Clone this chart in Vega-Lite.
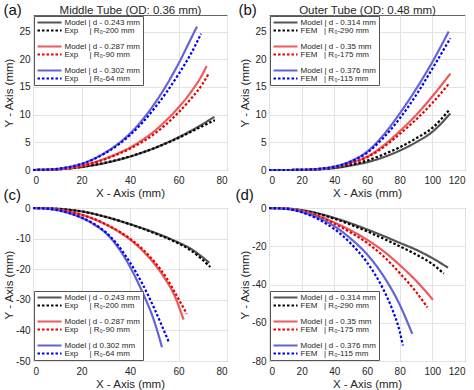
{
  "$schema": "https://vega.github.io/schema/vega-lite/v6.json",
  "padding": {"left": 2, "top": 1, "right": 0, "bottom": 0},
  "columns": 2,
  "spacing": {"row": 38, "column": 42},
  "bounds": "flush",
  "config": {
    "font": "Liberation Sans",
    "view": {"stroke": "#666666", "strokeWidth": 1},
    "axis": {"labelFontSize": 10, "labelColor": "#262626", "titleFontSize": 11.5, "titleFontWeight": "normal", "titleColor": "#262626", "gridColor": "#e3e3e3", "ticks": false, "domain": false, "labelOverlap": false},
    "axisX": {"labelPadding": 5, "titlePadding": 2},
    "axisY": {"labelPadding": 3, "titleX": -18.5},
    "legend": {"title": null, "offset": 1, "padding": 2.5, "fillColor": "white", "strokeColor": "#555555", "labelFontSize": 8, "labelColor": "#262626", "symbolType": "M-4,0H4", "symbolSize": 36, "symbolStrokeWidth": 2, "symbolOffset": 9, "labelOffset": 11, "rowPadding": 0}
  },
  "resolve": {
    "scale": {"color": "independent", "strokeDash": "independent", "x": "independent", "y": "independent"},
    "legend": {"color": "independent", "strokeDash": "independent"}
  },
  "datasets": {
    "a": [
      {"s":"m1","x":0,"y":0},{"s":"m1","x":5,"y":0.03},{"s":"m1","x":10,"y":0.11},{"s":"m1","x":15,"y":0.28},{"s":"m1","x":20,"y":0.53},{"s":"m1","x":25,"y":0.86},{"s":"m1","x":30,"y":1.29},{"s":"m1","x":35,"y":1.81},{"s":"m1","x":40,"y":2.42},{"s":"m1","x":45,"y":3.14},{"s":"m1","x":50,"y":3.95},{"s":"m1","x":55,"y":4.88},{"s":"m1","x":60,"y":5.91},{"s":"m1","x":65,"y":7.05},{"s":"m1","x":70,"y":8.3},{"s":"m1","x":74.8,"y":9.6},
      {"s":"e1","x":0,"y":0},{"s":"e1","x":5,"y":0.03},{"s":"e1","x":10,"y":0.12},{"s":"e1","x":15,"y":0.3},{"s":"e1","x":20,"y":0.56},{"s":"e1","x":25,"y":0.9},{"s":"e1","x":30,"y":1.33},{"s":"e1","x":35,"y":1.85},{"s":"e1","x":40,"y":2.45},{"s":"e1","x":45,"y":3.15},{"s":"e1","x":50,"y":3.93},{"s":"e1","x":55,"y":4.82},{"s":"e1","x":60,"y":5.8},{"s":"e1","x":65,"y":6.85},{"s":"e1","x":70,"y":7.95},{"s":"e1","x":75,"y":9.0},
      {"s":"m2","x":0,"y":0},{"s":"m2","x":5,"y":0.03},{"s":"m2","x":10,"y":0.12},{"s":"m2","x":15,"y":0.35},{"s":"m2","x":20,"y":0.75},{"s":"m2","x":25,"y":1.35},{"s":"m2","x":30,"y":2.1},{"s":"m2","x":35,"y":3.0},{"s":"m2","x":40,"y":4.05},{"s":"m2","x":45,"y":5.4},{"s":"m2","x":50,"y":7.0},{"s":"m2","x":55,"y":9.0},{"s":"m2","x":60,"y":11.3},{"s":"m2","x":65,"y":14.0},{"s":"m2","x":70,"y":17.4},{"s":"m2","x":71.6,"y":18.8},
      {"s":"e2","x":0,"y":0},{"s":"e2","x":5,"y":0.03},{"s":"e2","x":10,"y":0.12},{"s":"e2","x":15,"y":0.35},{"s":"e2","x":20,"y":0.75},{"s":"e2","x":25,"y":1.3},{"s":"e2","x":30,"y":2.0},{"s":"e2","x":35,"y":2.85},{"s":"e2","x":40,"y":3.85},{"s":"e2","x":45,"y":5.05},{"s":"e2","x":50,"y":6.5},{"s":"e2","x":55,"y":8.3},{"s":"e2","x":60,"y":10.4},{"s":"e2","x":65,"y":12.8},{"s":"e2","x":70,"y":15.6},{"s":"e2","x":72.3,"y":17.3},
      {"s":"m3","x":0,"y":0},{"s":"m3","x":5,"y":0.05},{"s":"m3","x":10,"y":0.2},{"s":"m3","x":15,"y":0.55},{"s":"m3","x":20,"y":1.1},{"s":"m3","x":25,"y":2.0},{"s":"m3","x":30,"y":3.2},{"s":"m3","x":35,"y":4.7},{"s":"m3","x":40,"y":6.6},{"s":"m3","x":45,"y":9.0},{"s":"m3","x":50,"y":11.9},{"s":"m3","x":55,"y":15.3},{"s":"m3","x":60,"y":19.2},{"s":"m3","x":65,"y":23.6},{"s":"m3","x":67.6,"y":25.9},
      {"s":"e3","x":0,"y":0},{"s":"e3","x":5,"y":0.05},{"s":"e3","x":10,"y":0.2},{"s":"e3","x":15,"y":0.55},{"s":"e3","x":20,"y":1.1},{"s":"e3","x":25,"y":1.95},{"s":"e3","x":30,"y":3.1},{"s":"e3","x":35,"y":4.5},{"s":"e3","x":40,"y":6.3},{"s":"e3","x":45,"y":8.5},{"s":"e3","x":50,"y":11.1},{"s":"e3","x":55,"y":14.0},{"s":"e3","x":60,"y":17.3},{"s":"e3","x":65,"y":20.9},{"s":"e3","x":69.3,"y":24.6}
    ],
    "b": [
      {"s":"m1","x":0,"y":0},{"s":"m1","x":10,"y":0},{"s":"m1","x":20,"y":0.02},{"s":"m1","x":30,"y":0.1},{"s":"m1","x":40,"y":0.35},{"s":"m1","x":50,"y":0.8},{"s":"m1","x":60,"y":1.4},{"s":"m1","x":70,"y":2.3},{"s":"m1","x":80,"y":3.5},{"s":"m1","x":90,"y":5.0},{"s":"m1","x":100,"y":6.9},{"s":"m1","x":111,"y":10.2},
      {"s":"e1","x":0,"y":0},{"s":"e1","x":10,"y":0},{"s":"e1","x":20,"y":0.02},{"s":"e1","x":30,"y":0.12},{"s":"e1","x":40,"y":0.4},{"s":"e1","x":50,"y":0.95},{"s":"e1","x":60,"y":1.7},{"s":"e1","x":70,"y":2.8},{"s":"e1","x":80,"y":4.1},{"s":"e1","x":90,"y":5.7},{"s":"e1","x":100,"y":7.6},{"s":"e1","x":110.5,"y":10.9},
      {"s":"m2","x":0,"y":0},{"s":"m2","x":10,"y":0},{"s":"m2","x":20,"y":0.02},{"s":"m2","x":30,"y":0.15},{"s":"m2","x":40,"y":0.55},{"s":"m2","x":50,"y":1.3},{"s":"m2","x":60,"y":2.4},{"s":"m2","x":70,"y":4.4},{"s":"m2","x":80,"y":7.0},{"s":"m2","x":90,"y":9.9},{"s":"m2","x":100,"y":13.3},{"s":"m2","x":111,"y":17.4},
      {"s":"e2","x":0,"y":0},{"s":"e2","x":10,"y":0},{"s":"e2","x":20,"y":0.02},{"s":"e2","x":30,"y":0.15},{"s":"e2","x":40,"y":0.55},{"s":"e2","x":50,"y":1.25},{"s":"e2","x":60,"y":2.3},{"s":"e2","x":70,"y":4.1},{"s":"e2","x":80,"y":6.5},{"s":"e2","x":90,"y":9.1},{"s":"e2","x":100,"y":12.1},{"s":"e2","x":110.5,"y":15.7},
      {"s":"m3","x":0,"y":0},{"s":"m3","x":10,"y":0},{"s":"m3","x":20,"y":0.03},{"s":"m3","x":30,"y":0.2},{"s":"m3","x":40,"y":0.6},{"s":"m3","x":50,"y":1.6},{"s":"m3","x":60,"y":3.3},{"s":"m3","x":70,"y":6.3},{"s":"m3","x":80,"y":10.2},{"s":"m3","x":90,"y":14.6},{"s":"m3","x":100,"y":19.5},{"s":"m3","x":110,"y":25.0},
      {"s":"e3","x":0,"y":0},{"s":"e3","x":10,"y":0},{"s":"e3","x":20,"y":0.03},{"s":"e3","x":30,"y":0.2},{"s":"e3","x":40,"y":0.6},{"s":"e3","x":50,"y":1.5},{"s":"e3","x":60,"y":3.1},{"s":"e3","x":70,"y":5.8},{"s":"e3","x":80,"y":9.3},{"s":"e3","x":90,"y":13.5},{"s":"e3","x":100,"y":18.3},{"s":"e3","x":111,"y":23.8}
    ],
    "c": [
      {"s":"m1","x":0,"y":0},{"s":"m1","x":5,"y":-0.05},{"s":"m1","x":10,"y":-0.25},{"s":"m1","x":15,"y":-0.6},{"s":"m1","x":20,"y":-1.1},{"s":"m1","x":30,"y":-2.9},{"s":"m1","x":40,"y":-5.3},{"s":"m1","x":50,"y":-8.0},{"s":"m1","x":60,"y":-11.3},{"s":"m1","x":65,"y":-13.3},{"s":"m1","x":72.7,"y":-17.9},
      {"s":"e1","x":0,"y":0},{"s":"e1","x":5,"y":-0.05},{"s":"e1","x":10,"y":-0.25},{"s":"e1","x":15,"y":-0.6},{"s":"e1","x":20,"y":-1.1},{"s":"e1","x":30,"y":-2.9},{"s":"e1","x":40,"y":-5.3},{"s":"e1","x":50,"y":-8.2},{"s":"e1","x":60,"y":-11.6},{"s":"e1","x":65,"y":-13.8},{"s":"e1","x":73.1,"y":-19.3},
      {"s":"m2","x":0,"y":0},{"s":"m2","x":5,"y":-0.1},{"s":"m2","x":10,"y":-0.5},{"s":"m2","x":15,"y":-1.2},{"s":"m2","x":20,"y":-2.2},{"s":"m2","x":25,"y":-3.6},{"s":"m2","x":30,"y":-5.4},{"s":"m2","x":35,"y":-7.6},{"s":"m2","x":40,"y":-10.3},{"s":"m2","x":45,"y":-13.8},{"s":"m2","x":50,"y":-18.2},{"s":"m2","x":55,"y":-23.8},{"s":"m2","x":58,"y":-28.0},{"s":"m2","x":62.1,"y":-36.5},
      {"s":"e2","x":0,"y":0},{"s":"e2","x":5,"y":-0.1},{"s":"e2","x":10,"y":-0.5},{"s":"e2","x":15,"y":-1.2},{"s":"e2","x":20,"y":-2.2},{"s":"e2","x":25,"y":-3.5},{"s":"e2","x":30,"y":-5.3},{"s":"e2","x":35,"y":-7.4},{"s":"e2","x":40,"y":-10.0},{"s":"e2","x":45,"y":-13.3},{"s":"e2","x":50,"y":-17.5},{"s":"e2","x":55,"y":-22.8},{"s":"e2","x":59,"y":-28.3},{"s":"e2","x":63.4,"y":-34.6},
      {"s":"m3","x":0,"y":0},{"s":"m3","x":5,"y":-0.15},{"s":"m3","x":10,"y":-0.7},{"s":"m3","x":15,"y":-1.7},{"s":"m3","x":20,"y":-3.2},{"s":"m3","x":25,"y":-5.3},{"s":"m3","x":30,"y":-8.2},{"s":"m3","x":35,"y":-12.8},{"s":"m3","x":40,"y":-19.2},{"s":"m3","x":45,"y":-27.3},{"s":"m3","x":50,"y":-37.0},{"s":"m3","x":53.2,"y":-45.5},
      {"s":"e3","x":0,"y":0},{"s":"e3","x":5,"y":-0.15},{"s":"e3","x":10,"y":-0.7},{"s":"e3","x":15,"y":-1.7},{"s":"e3","x":20,"y":-3.1},{"s":"e3","x":25,"y":-5.1},{"s":"e3","x":30,"y":-7.9},{"s":"e3","x":35,"y":-12.1},{"s":"e3","x":40,"y":-17.8},{"s":"e3","x":45,"y":-24.6},{"s":"e3","x":50,"y":-32.8},{"s":"e3","x":53,"y":-38.2},{"s":"e3","x":56,"y":-43.8}
    ],
    "d": [
      {"s":"m1","x":0,"y":0},{"s":"m1","x":10,"y":-0.25},{"s":"m1","x":20,"y":-1.1},{"s":"m1","x":30,"y":-2.8},{"s":"m1","x":40,"y":-5.2},{"s":"m1","x":50,"y":-8.0},{"s":"m1","x":60,"y":-11.2},{"s":"m1","x":70,"y":-14.6},{"s":"m1","x":80,"y":-18.2},{"s":"m1","x":90,"y":-21.8},{"s":"m1","x":100,"y":-26.2},{"s":"m1","x":109.6,"y":-31.2},
      {"s":"e1","x":0,"y":0},{"s":"e1","x":10,"y":-0.25},{"s":"e1","x":20,"y":-1.2},{"s":"e1","x":30,"y":-3.0},{"s":"e1","x":40,"y":-5.6},{"s":"e1","x":50,"y":-8.7},{"s":"e1","x":60,"y":-12.2},{"s":"e1","x":70,"y":-16.0},{"s":"e1","x":80,"y":-20.0},{"s":"e1","x":90,"y":-24.3},{"s":"e1","x":100,"y":-29.3},{"s":"e1","x":107,"y":-34.3},
      {"s":"m2","x":0,"y":0},{"s":"m2","x":10,"y":-0.3},{"s":"m2","x":20,"y":-1.5},{"s":"m2","x":30,"y":-4.0},{"s":"m2","x":40,"y":-7.6},{"s":"m2","x":50,"y":-11.7},{"s":"m2","x":60,"y":-16.6},{"s":"m2","x":70,"y":-22.5},{"s":"m2","x":80,"y":-29.8},{"s":"m2","x":90,"y":-38.0},{"s":"m2","x":100.4,"y":-48.0},
      {"s":"e2","x":0,"y":0},{"s":"e2","x":10,"y":-0.3},{"s":"e2","x":20,"y":-1.6},{"s":"e2","x":30,"y":-4.3},{"s":"e2","x":40,"y":-8.2},{"s":"e2","x":50,"y":-12.8},{"s":"e2","x":60,"y":-18.2},{"s":"e2","x":70,"y":-25.2},{"s":"e2","x":80,"y":-34.0},{"s":"e2","x":90,"y":-43.8},{"s":"e2","x":97,"y":-52.0},
      {"s":"m3","x":0,"y":0},{"s":"m3","x":10,"y":-0.4},{"s":"m3","x":20,"y":-2.0},{"s":"m3","x":30,"y":-5.0},{"s":"m3","x":40,"y":-9.5},{"s":"m3","x":50,"y":-16.0},{"s":"m3","x":60,"y":-24.2},{"s":"m3","x":70,"y":-35.5},{"s":"m3","x":80,"y":-50.5},{"s":"m3","x":87.7,"y":-65.8},
      {"s":"e3","x":0,"y":0},{"s":"e3","x":10,"y":-0.4},{"s":"e3","x":20,"y":-2.2},{"s":"e3","x":30,"y":-5.8},{"s":"e3","x":40,"y":-11.0},{"s":"e3","x":50,"y":-18.5},{"s":"e3","x":60,"y":-28.4},{"s":"e3","x":65,"y":-34.8},{"s":"e3","x":70,"y":-42.5},{"s":"e3","x":75,"y":-52.0},{"s":"e3","x":80,"y":-64.5},{"s":"e3","x":82,"y":-71.9}
    ]
  },
  "concat": [
    {
      "width": 194, "height": 155,
      "data": {"name": "a"},
      "layer": [
        {
          "mark": {"type": "line", "strokeWidth": 2.2, "interpolate": "monotone"},
          "encoding": {
            "x": {"field": "x", "type": "quantitative", "scale": {"domain": [0, 80], "nice": false}, "axis": {"title": "X - Axis (mm)", "values": [0, 20, 40, 60, 80]}},
            "y": {"field": "y", "type": "quantitative", "scale": {"domain": [0, 28], "nice": false}, "axis": {"orient": "left", "title": "Y - Axis (mm)", "values": [0, 5, 10, 15, 20, 25]}},
            "color": {"field": "s", "type": "nominal", "scale": {"domain": ["m1","e1","g1","m2","e2","g2","m3","e3"], "range": ["#555555","#000000","rgba(0,0,0,0)","#ee5a5a","#e80000","rgba(0,0,0,0)","#6464d8","#0000f0"]}, "legend": {"orient": "top-left", "labelExpr": "datum.label=='m1'?'Model | d - 0.243 mm':datum.label=='e1'?'Exp\u2007\u2007 | R\u2080-200 mm':datum.label=='m2'?'Model | d - 0.287 mm':datum.label=='e2'?'Exp\u2007\u2007 | R\u2080-90 mm':datum.label=='m3'?'Model | d - 0.302 mm':datum.label=='e3'?'Exp\u2007\u2007 | R\u2080-64 mm':''"}},
            "strokeDash": {"field": "s", "type": "nominal", "scale": {"domain": ["m1","e1","g1","m2","e2","g2","m3","e3"], "range": [[1,0],[2.5,2],[1,0],[1,0],[2.5,2],[1,0],[1,0],[2.5,2]]}, "legend": {"orient": "top-left", "labelExpr": "datum.label=='m1'?'Model | d - 0.243 mm':datum.label=='e1'?'Exp\u2007\u2007 | R\u2080-200 mm':datum.label=='m2'?'Model | d - 0.287 mm':datum.label=='e2'?'Exp\u2007\u2007 | R\u2080-90 mm':datum.label=='m3'?'Model | d - 0.302 mm':datum.label=='e3'?'Exp\u2007\u2007 | R\u2080-64 mm':''"}}
          }
        },
        {
          "mark": {"type": "point", "opacity": 0},
          "encoding": {
            "x": {"field": "x", "type": "quantitative", "axis": {"orient": "top", "title": "Middle Tube (OD: 0.36 mm)", "labels": false, "grid": false, "titleY": -2, "titleBaseline": "alphabetic"}},
            "y": {"field": "y", "type": "quantitative", "axis": {"orient": "left", "title": "(a)", "labels": false, "grid": false, "titleAngle": 0, "titleX": -30, "titleY": -1, "titleAlign": "left", "titleBaseline": "alphabetic", "titleFontSize": 15, "titleColor": "#111111"}}
          }
        }
      ],
      "resolve": {"axis": {"x": "independent", "y": "independent"}}
    },
    {
      "width": 196, "height": 155,
      "data": {"name": "b"},
      "layer": [
        {
          "mark": {"type": "line", "strokeWidth": 2.2, "interpolate": "monotone"},
          "encoding": {
            "x": {"field": "x", "type": "quantitative", "scale": {"domain": [0, 120], "nice": false}, "axis": {"title": "X - Axis (mm)", "values": [0, 20, 40, 60, 80, 100, 120]}},
            "y": {"field": "y", "type": "quantitative", "scale": {"domain": [0, 28], "nice": false}, "axis": {"orient": "left", "title": "Y - Axis (mm)", "values": [0, 5, 10, 15, 20, 25]}},
            "color": {"field": "s", "type": "nominal", "scale": {"domain": ["m1","e1","g1","m2","e2","g2","m3","e3"], "range": ["#555555","#000000","rgba(0,0,0,0)","#ee5a5a","#e80000","rgba(0,0,0,0)","#6464d8","#0000f0"]}, "legend": {"orient": "top-left", "labelExpr": "datum.label=='m1'?'Model | d - 0.314 mm':datum.label=='e1'?'FEM\u2007 | R\u2080-290 mm':datum.label=='m2'?'Model | d - 0.35 mm':datum.label=='e2'?'FEM\u2007 | R\u2080-175 mm':datum.label=='m3'?'Model | d - 0.376 mm':datum.label=='e3'?'FEM\u2007 | R\u2080-115 mm':''"}},
            "strokeDash": {"field": "s", "type": "nominal", "scale": {"domain": ["m1","e1","g1","m2","e2","g2","m3","e3"], "range": [[1,0],[2.5,2],[1,0],[1,0],[2.5,2],[1,0],[1,0],[2.5,2]]}, "legend": {"orient": "top-left", "labelExpr": "datum.label=='m1'?'Model | d - 0.314 mm':datum.label=='e1'?'FEM\u2007 | R\u2080-290 mm':datum.label=='m2'?'Model | d - 0.35 mm':datum.label=='e2'?'FEM\u2007 | R\u2080-175 mm':datum.label=='m3'?'Model | d - 0.376 mm':datum.label=='e3'?'FEM\u2007 | R\u2080-115 mm':''"}}
          }
        },
        {
          "mark": {"type": "point", "opacity": 0},
          "encoding": {
            "x": {"field": "x", "type": "quantitative", "axis": {"orient": "top", "title": "Outer Tube (OD: 0.48 mm)", "labels": false, "grid": false, "titleY": -2, "titleBaseline": "alphabetic"}},
            "y": {"field": "y", "type": "quantitative", "axis": {"orient": "left", "title": "(b)", "labels": false, "grid": false, "titleAngle": 0, "titleX": -31, "titleY": -1, "titleAlign": "left", "titleBaseline": "alphabetic", "titleFontSize": 15, "titleColor": "#111111"}}
          }
        }
      ],
      "resolve": {"axis": {"x": "independent", "y": "independent"}}
    },
    {
      "width": 194, "height": 153,
      "data": {"name": "c"},
      "layer": [
        {
          "mark": {"type": "line", "strokeWidth": 2.2, "interpolate": "monotone"},
          "encoding": {
            "x": {"field": "x", "type": "quantitative", "scale": {"domain": [0, 80], "nice": false}, "axis": {"title": "X - Axis (mm)", "values": [0, 20, 40, 60, 80]}},
            "y": {"field": "y", "type": "quantitative", "scale": {"domain": [-50, 0], "nice": false}, "axis": {"orient": "left", "title": "Y - Axis (mm)", "values": [0, -10, -20, -30, -40, -50], "labelExpr": "'' + datum.value"}},
            "color": {"field": "s", "type": "nominal", "scale": {"domain": ["m1","e1","g1","m2","e2","g2","m3","e3"], "range": ["#555555","#000000","rgba(0,0,0,0)","#ee5a5a","#e80000","rgba(0,0,0,0)","#6464d8","#0000f0"]}, "legend": {"orient": "bottom-left", "labelExpr": "datum.label=='m1'?'Model | d - 0.243 mm':datum.label=='e1'?'Exp\u2007\u2007 | R\u2080-200 mm':datum.label=='m2'?'Model | d - 0.287 mm':datum.label=='e2'?'Exp\u2007\u2007 | R\u2080-90 mm':datum.label=='m3'?'Model | d   0.302 mm':datum.label=='e3'?'Exp\u2007\u2007 | R\u2080-64 mm':''"}},
            "strokeDash": {"field": "s", "type": "nominal", "scale": {"domain": ["m1","e1","g1","m2","e2","g2","m3","e3"], "range": [[1,0],[2.5,2],[1,0],[1,0],[2.5,2],[1,0],[1,0],[2.5,2]]}, "legend": {"orient": "bottom-left", "labelExpr": "datum.label=='m1'?'Model | d - 0.243 mm':datum.label=='e1'?'Exp\u2007\u2007 | R\u2080-200 mm':datum.label=='m2'?'Model | d - 0.287 mm':datum.label=='e2'?'Exp\u2007\u2007 | R\u2080-90 mm':datum.label=='m3'?'Model | d   0.302 mm':datum.label=='e3'?'Exp\u2007\u2007 | R\u2080-64 mm':''"}}
          }
        },
        {
          "mark": {"type": "point", "opacity": 0},
          "encoding": {
            "x": {"field": "x", "type": "quantitative", "axis": null},
            "y": {"field": "y", "type": "quantitative", "axis": {"orient": "left", "title": "(c)", "labels": false, "grid": false, "titleAngle": 0, "titleX": -30, "titleY": -9, "titleAlign": "left", "titleBaseline": "alphabetic", "titleFontSize": 15, "titleColor": "#111111"}}
          }
        }
      ],
      "resolve": {"axis": {"x": "independent", "y": "independent"}}
    },
    {
      "width": 196, "height": 153,
      "data": {"name": "d"},
      "layer": [
        {
          "mark": {"type": "line", "strokeWidth": 2.2, "interpolate": "monotone"},
          "encoding": {
            "x": {"field": "x", "type": "quantitative", "scale": {"domain": [0, 120], "nice": false}, "axis": {"title": "X - Axis (mm)", "values": [0, 20, 40, 60, 80, 100, 120]}},
            "y": {"field": "y", "type": "quantitative", "scale": {"domain": [-80, 0], "nice": false}, "axis": {"orient": "left", "title": "Y - Axis (mm)", "values": [0, -20, -40, -60, -80], "labelExpr": "'' + datum.value"}},
            "color": {"field": "s", "type": "nominal", "scale": {"domain": ["m1","e1","g1","m2","e2","g2","m3","e3"], "range": ["#555555","#000000","rgba(0,0,0,0)","#ee5a5a","#e80000","rgba(0,0,0,0)","#6464d8","#0000f0"]}, "legend": {"orient": "bottom-left", "labelExpr": "datum.label=='m1'?'Model | d - 0.314 mm':datum.label=='e1'?'FEM\u2007 | R\u2080-290 mm':datum.label=='m2'?'Model | d - 0.35 mm':datum.label=='e2'?'FEM\u2007 | R\u2080-175 mm':datum.label=='m3'?'Model | d - 0.376 mm':datum.label=='e3'?'FEM\u2007 | R\u2080-115 mm':''"}},
            "strokeDash": {"field": "s", "type": "nominal", "scale": {"domain": ["m1","e1","g1","m2","e2","g2","m3","e3"], "range": [[1,0],[2.5,2],[1,0],[1,0],[2.5,2],[1,0],[1,0],[2.5,2]]}, "legend": {"orient": "bottom-left", "labelExpr": "datum.label=='m1'?'Model | d - 0.314 mm':datum.label=='e1'?'FEM\u2007 | R\u2080-290 mm':datum.label=='m2'?'Model | d - 0.35 mm':datum.label=='e2'?'FEM\u2007 | R\u2080-175 mm':datum.label=='m3'?'Model | d - 0.376 mm':datum.label=='e3'?'FEM\u2007 | R\u2080-115 mm':''"}}
          }
        },
        {
          "mark": {"type": "point", "opacity": 0},
          "encoding": {
            "x": {"field": "x", "type": "quantitative", "axis": null},
            "y": {"field": "y", "type": "quantitative", "axis": {"orient": "left", "title": "(d)", "labels": false, "grid": false, "titleAngle": 0, "titleX": -34, "titleY": -9, "titleAlign": "left", "titleBaseline": "alphabetic", "titleFontSize": 15, "titleColor": "#111111"}}
          }
        }
      ],
      "resolve": {"axis": {"x": "independent", "y": "independent"}}
    }
  ]
}
